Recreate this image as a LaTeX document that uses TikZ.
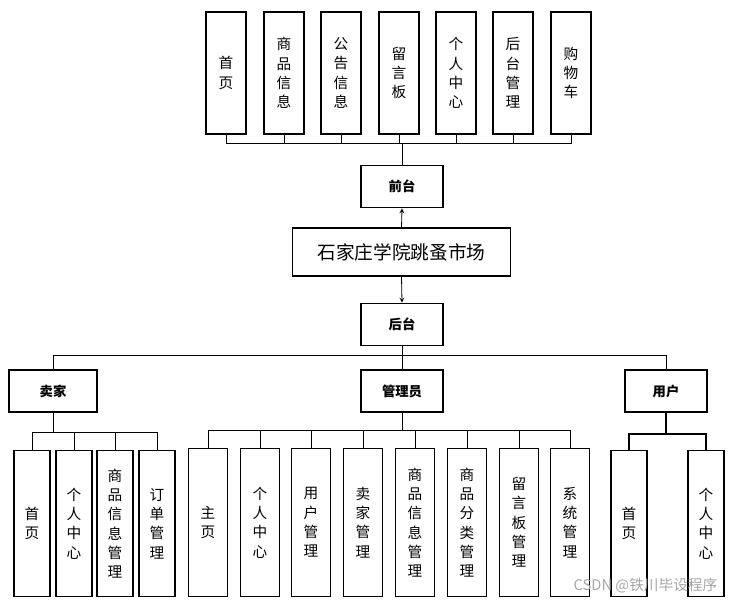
\documentclass[tikz,border=0pt]{standalone}
\usepackage{fontspec}
\setmainfont{Noto Sans CJK SC}
\usetikzlibrary{calc}
\begin{document}
\begin{tikzpicture}[x=0.75pt,y=-0.75pt,
  bx/.style={draw,line width=0.9pt,fill=white,inner sep=0pt,align=center,font=\fontsize{11}{14.5}\selectfont},
  ln/.style={draw,line width=0.6pt},
  tk/.style={draw,line width=1.2pt}]
\fill[white] (0,0) rectangle (737,606);
\useasboundingbox (0,0) rectangle (737,606);
% top boxes
\foreach \n/\x/\t in {t1/226/首\\页, t2/284/商\\品\\信\\息, t3/341/公\\告\\信\\息, t4/399/留\\言\\板, t5/456/个\\人\\中\\心, t6/513/后\\台\\管\\理, t7/571/购\\物\\车}
  \node[bx,minimum width=30pt,minimum height=91.5pt] (\n) at (\x,73) {\t};
\node[bx,font=\fontsize{10}{12}\selectfont\bfseries,minimum width=61.5pt,minimum height=32pt] (qt) at (402,186.5) {前台};
\node[bx,font=\fontsize{14}{16}\selectfont,minimum width=163pt,minimum height=36pt] (title) at (401.5,252) {石家庄学院跳蚤市场};
\node[bx,font=\fontsize{10}{12}\selectfont\bfseries,minimum width=61.5pt,minimum height=32pt] (ht) at (402,324.5) {后台};
\foreach \n in {t1,t2,t3,t4,t5,t6,t7} \draw[ln] (\n.south) -- ++(0,9);
\draw[ln] ($(t1.south)+(0,9)$) -- ($(t7.south)+(0,9)$);
\draw[ln] (402,143) -- (qt.north);
\draw[ln,-stealth] (title.north) -- (qt.south);
\draw[ln,-stealth] (title.south) -- (ht.north);
% level 2
\node[bx,font=\fontsize{10}{12}\selectfont\bfseries,minimum width=66pt,minimum height=31.5pt] (mj) at (53,391) {卖家};
\node[bx,font=\fontsize{10}{12}\selectfont\bfseries,minimum width=61.5pt,minimum height=31.5pt] (gly) at (402,391) {管理员};
\node[bx,font=\fontsize{10}{12}\selectfont\bfseries,minimum width=61.5pt,minimum height=31.5pt] (yh) at (666,391) {用户};
\draw[ln] (ht.south) -- (402,355);
\draw[ln] (53,355) -- (666,355);
\draw[ln] (53,355) -- (mj.north);
\draw[ln] (402,355) -- (gly.north);
\draw[ln] (666,355) -- (yh.north);
% seller children
\foreach \n/\x/\t in {s1/32/首\\页, s2/74/个\\人\\中\\心, s3/115/商\\品\\信\\息\\管\\理, s4/157/订\\单\\管\\理}{
  \node[bx,minimum width=27pt,minimum height=110pt] (\n) at (\x,523.5) {\t};
  \draw[ln] (\n.north) -- (\x,432);}
\draw[ln] (32,432) -- (157,432);
\draw[ln] (mj.south) -- (53,432);
% admin children
\foreach \n/\x/\t in {a1/208/主\\页, a2/260/个\\人\\中\\心, a3/311/用\\户\\管\\理, a4/363/卖\\家\\管\\理, a5/415/商\\品\\信\\息\\管\\理, a6/467/商\\品\\分\\类\\管\\理, a7/519/留\\言\\板\\管\\理, a8/570/系\\统\\管\\理}{
  \node[bx,minimum width=29pt,minimum height=111.5pt] (\n) at (\x,522.5) {\t};
  \draw[ln] (\n.north) -- (\x,430);}
\draw[ln] (208,430) -- (570,430);
\draw[ln] (gly.south) -- (402,430);
% user children
\node[bx,minimum width=27pt,minimum height=110pt] (u1) at (629,523.5) {首\\页};
\node[bx,minimum width=27pt,minimum height=110pt] (u2) at (706,523.5) {个\\人\\中\\心};
\draw[tk] (u1.north) -- (629,434) -- (706,434) -- (u2.north);
\draw[tk] (yh.south) -- (666,434);
\node[font=\fontsize{11}{12}\selectfont,text=gray!70,anchor=east] (wm) at (722,586) {CSDN @铁川毕设程序};
\end{tikzpicture}
\end{document}
